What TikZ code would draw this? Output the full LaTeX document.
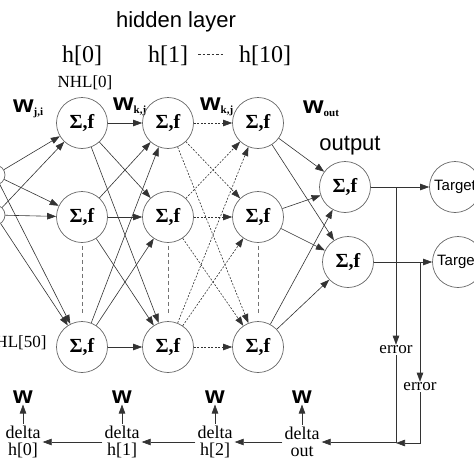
\documentclass[tikz,border=0pt]{standalone}
\usepackage{fontspec}
\setmainfont{Liberation Serif}
\setsansfont{Liberation Sans}
\usetikzlibrary{arrows.meta}
\newcommand{\mywlab}[1]{{\sffamily\bfseries\fontsize{24}{24}\selectfont\scalebox{1.1}[1]{w}}\raisebox{-3.5pt}{\fontsize{11}{11}\selectfont\bfseries #1}}
\begin{document}
\begin{tikzpicture}[x=1pt,y=-1pt,
  neuron/.style={circle,draw=black!60,line width=0.7pt,minimum size=51pt,inner sep=0pt,
    font=\fontsize{20}{20}\selectfont\bfseries},
  target/.style={circle,draw=black!60,line width=0.7pt,minimum size=51pt,inner sep=0pt,
    font=\sffamily\fontsize{15}{15}\selectfont},
  innode/.style={circle,draw=black!60,line width=0.7pt,minimum size=20pt,inner sep=0pt},
  conn/.style={draw=black!80,line width=0.6pt,-{Triangle[length=9pt,width=6.5pt]}},
  dconn/.style={conn,dash pattern=on 2pt off 1.5pt},
  plain/.style={draw=black!80,line width=0.6pt},
  vdash/.style={draw=black!55,line width=0.8pt,dash pattern=on 4pt off 3pt},
  big/.style={font=\sffamily\fontsize{22}{22}\selectfont},
  hlab/.style={font=\fontsize{24}{24}\selectfont},
  nhl/.style={font=\fontsize{17}{17}\selectfont},
  errl/.style={font=\fontsize{17}{17}\selectfont,inner sep=1pt},
  deltal/.style={font=\fontsize{18}{17}\selectfont,align=center,inner sep=2pt},
  wl/.style={inner sep=0pt,anchor=base west},
  wbot/.style={font=\sffamily\bfseries\fontsize{24}{24}\selectfont,inner sep=0pt}
]
\useasboundingbox (0,0) rectangle (474,474);
\clip (0,0) rectangle (474,474);

% titles
\node[big] (title) at (176,22) {hidden layer};
\node[hlab] (h0) at (82,56) {h[0]};
\node[hlab] (h1) at (168,56) {h[1]};
\node[hlab] (h10) at (265,56) {h[10]};
\coordinate (hd1) at (198,54);
\coordinate (hd2) at (223,54);
\draw[plain,dash pattern=on 2.5pt off 2pt] (hd1) -- (hd2);
\node[nhl] (nhl0) at (85,83) {NHL[0]};
\node[nhl,anchor=east] (nhl50) at (50,343) {NHL[50]};

% weight labels
\node[wl] (wji) at (13,112) {\mywlab{j,i}};
\node[wl] (wkj1) at (113,110) {\mywlab{k,j}};
\node[wl] (wkj2) at (200,110) {\mywlab{k,j}};
\node[wl] (wout) at (303,113) {\mywlab{out}};
\node[big,anchor=base] (outl) at (350,150) {output};

% inputs
\node[innode] (I1) at (-5,175) {};
\node[innode] (I2) at (-5,215) {};

% neurons
\node[neuron] (A0) at (82,123) {Σ,f};
\node[neuron] (A1) at (82,217) {Σ,f};
\node[neuron] (A2) at (82,347) {Σ,f};
\node[neuron] (B0) at (168,123) {Σ,f};
\node[neuron] (B1) at (168,217) {Σ,f};
\node[neuron] (B2) at (168,347) {Σ,f};
\node[neuron] (C0) at (258,123) {Σ,f};
\node[neuron] (C1) at (258,217) {Σ,f};
\node[neuron] (C2) at (258,347) {Σ,f};
\node[neuron] (O1) at (345,187) {Σ,f};
\node[neuron] (O2) at (348,262) {Σ,f};
\node[target] (T1) at (455,187) {Target};
\node[target] (T2) at (458,262) {Target};

% vertical dashes
\foreach \c in {A,B,C}{
  \draw[vdash] ([yshift=-3pt]\c1.south) -- ([yshift=8pt]\c2.north);
}

% connections
\foreach \s in {I1,I2}{\foreach \t in {A0,A1,A2}{\draw[conn] (\s) -- (\t);}}
\foreach \s in {A0,A1,A2}{\foreach \t in {B0,B1,B2}{\draw[conn] (\s) -- (\t);}}
\foreach \s in {B0,B1,B2}{\foreach \t in {C0,C1,C2}{\draw[dconn] (\s) -- (\t);}}
\foreach \s in {C0,C1,C2}{\foreach \t in {O1,O2}{\draw[conn] (\s) -- (\t);}}

% outputs to targets and errors
\draw[conn] (O1) -- (T1);
\draw[conn] (O2) -- (T2);
\coordinate (b1) at (396,187);
\coordinate (b2) at (420,262);
\node[errl] (err1) at (396,350) {error};
\node[errl] (err2) at (420,387) {error};
\draw[conn] (b1) -- (err1.north);
\draw[conn] (b2) -- (err2.north);
\coordinate (c1) at (396,443);

% deltas
\node[deltal] (d0) at (23,442) {delta\\h[0]};
\node[deltal] (d1) at (122,442) {delta\\h[1]};
\node[deltal] (d2) at (215,442) {delta\\h[2]};
\node[deltal] (dout) at (302,442) {delta\\out};
\node[wbot] (w0) at (23,397) {\scalebox{1.05}[1]{w}};
\node[wbot] (w1) at (122,397) {\scalebox{1.05}[1]{w}};
\node[wbot] (w2) at (215,397) {\scalebox{1.05}[1]{w}};
\node[wbot] (w3) at (302,397) {\scalebox{1.05}[1]{w}};
\foreach \d/\w in {d0/w0,d1/w1,d2/w2,dout/w3}{\draw[conn] (\d.north) -- ([yshift=-1pt]\w.south);}

\draw[conn] (err1.south) |- (dout.east);
\draw[conn] (err2.south) |- (c1);
\draw[conn] (dout) -- (d2);
\draw[conn] (d2) -- (d1);
\draw[conn] (d1) -- (d0);
\end{tikzpicture}
\end{document}
